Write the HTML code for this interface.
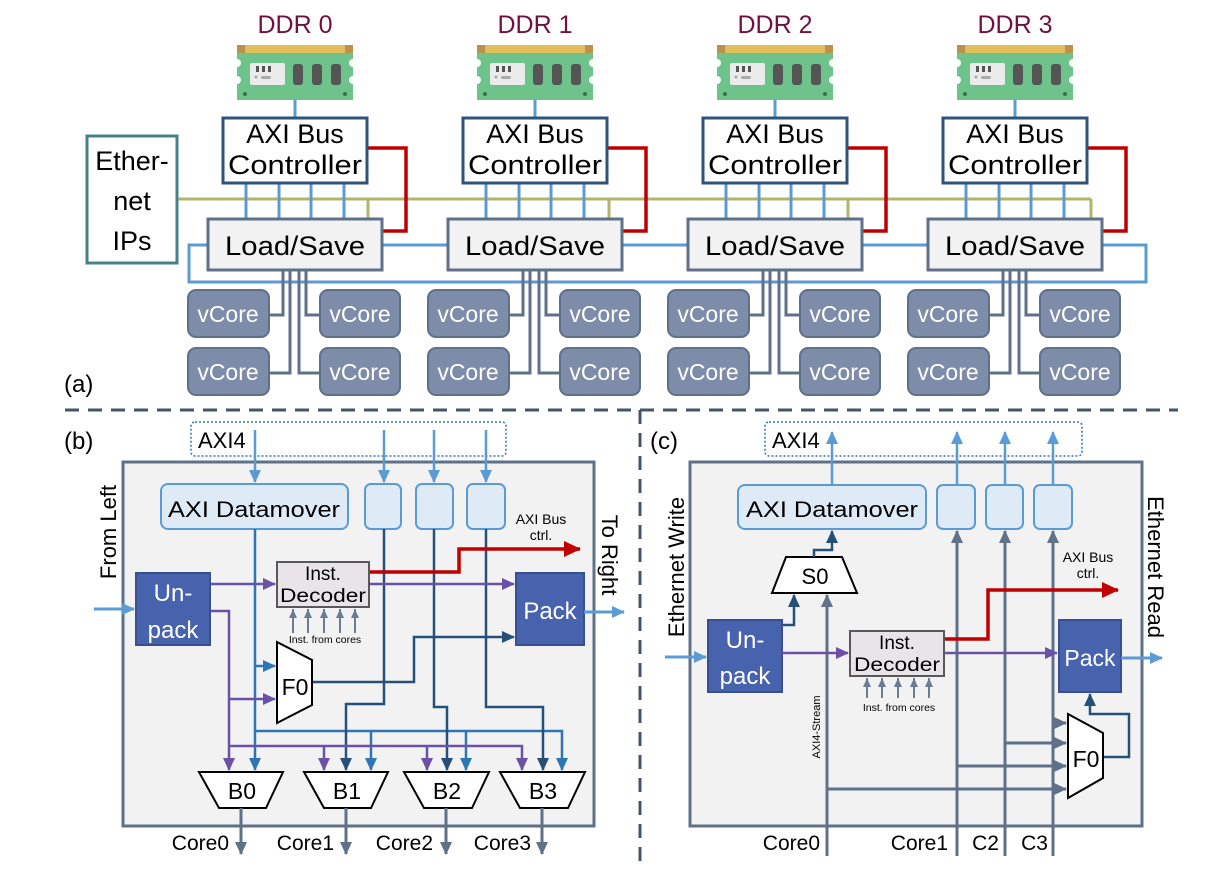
<!DOCTYPE html>
<html><head><meta charset="utf-8"><style>
html,body{margin:0;padding:0;background:#fff;}
svg{display:block;font-family:"Liberation Sans",sans-serif;}
</style></head><body>
<svg width="1228" height="882" viewBox="0 0 1228 882" xmlns="http://www.w3.org/2000/svg">
<defs>
<marker id="aL" markerUnits="userSpaceOnUse" markerWidth="14" markerHeight="14" refX="12" refY="7" orient="auto"><path d="M0,1 L13,7 L0,13 z" fill="#5b9bd5"/></marker>
<marker id="aB" markerUnits="userSpaceOnUse" markerWidth="14" markerHeight="14" refX="12" refY="7" orient="auto"><path d="M0,1 L13,7 L0,13 z" fill="#2e75b6"/></marker>
<marker id="aD" markerUnits="userSpaceOnUse" markerWidth="14" markerHeight="14" refX="12" refY="7" orient="auto"><path d="M0,1 L13,7 L0,13 z" fill="#25507a"/></marker>
<marker id="aP" markerUnits="userSpaceOnUse" markerWidth="14" markerHeight="14" refX="12" refY="7" orient="auto"><path d="M0,1 L13,7 L0,13 z" fill="#6a50a7"/></marker>
<marker id="aG" markerUnits="userSpaceOnUse" markerWidth="14" markerHeight="14" refX="12" refY="7" orient="auto"><path d="M0,1 L13,7 L0,13 z" fill="#5f7089"/></marker>
<marker id="aR" markerUnits="userSpaceOnUse" markerWidth="18" markerHeight="18" refX="16" refY="9" orient="auto"><path d="M0,1 L17,9 L0,17 z" fill="#c00000"/></marker>
<marker id="as" markerUnits="userSpaceOnUse" markerWidth="10" markerHeight="10" refX="9" refY="5" orient="auto"><path d="M0,1 L9,5 L0,9 z" fill="#6d7c93"/></marker>
<g id="ddr">
<rect x="0" y="0" width="116" height="9" fill="#e3bd5c"/>
<rect x="0" y="0" width="8" height="9" fill="#b8944a"/><rect x="108" y="0" width="8" height="9" fill="#b8944a"/>
<rect x="0" y="8" width="116" height="47" fill="#6ec38a"/>
<circle cx="0" cy="18" r="4" fill="#fff"/><circle cx="0" cy="35" r="4" fill="#fff"/>
<circle cx="116" cy="18" r="4" fill="#fff"/><circle cx="116" cy="35" r="4" fill="#fff"/>
<rect x="13" y="18" width="35" height="22" rx="2" fill="#ebebeb"/>
<rect x="19" y="21" width="3" height="6" fill="#555"/><rect x="25" y="21" width="3" height="6" fill="#555"/><rect x="31" y="21" width="3" height="6" fill="#555"/>
<rect x="24" y="31" width="10" height="3" rx="1.5" fill="#aaa"/><circle cx="19" cy="32" r="1.5" fill="#aaa"/>
<rect x="56" y="19" width="10" height="21" rx="3" fill="#555"/><rect x="75" y="19" width="10" height="21" rx="3" fill="#555"/><rect x="94" y="19" width="10" height="21" rx="3" fill="#555"/>
<circle cx="8" cy="49" r="2" fill="#3c6e4a"/><circle cx="108" cy="49" r="2" fill="#3c6e4a"/>
</g>
</defs>

<!-- ===== (a) ===== -->
<path d="M177,199 H1091 M368,199 V218 M609,199 V218 M848,199 V218 M1091,199 V218" stroke="#b1b46c" stroke-width="3" fill="none"/>
<path d="M208,245 H189 V282 H1146 V245 H1102" stroke="#5b9bd5" stroke-width="3" fill="none"/>
<path d="M382,245 H448 M622,245 H688 M862,245 H928" stroke="#5b9bd5" stroke-width="3" fill="none"/>

<g id="unit0">
<use href="#ddr" x="237" y="45"/>
<text x="295" y="33" font-size="25" fill="#72103f" text-anchor="middle">DDR 0</text>
<path d="M295,100 V117 M246,183 V218 M279,183 V218 M311,183 V218 M344,183 V218" stroke="#5b9bd5" stroke-width="3"/>
<path d="M367,148 H406 V231 H382" stroke="#c00000" stroke-width="3.5" fill="none"/>
<rect x="223" y="118" width="144" height="65" fill="#fff" stroke="#2e5279" stroke-width="3"/>
<text x="295" y="143" font-size="27" text-anchor="middle">AXI Bus</text>
<text x="295" y="174" font-size="27" text-anchor="middle" textLength="134" lengthAdjust="spacingAndGlyphs">Controller</text>
<rect x="208" y="219" width="174" height="51" fill="#f2f2f2" stroke="#5f7089" stroke-width="3"/>
<text x="295" y="255" font-size="27" text-anchor="middle" textLength="140" lengthAdjust="spacingAndGlyphs">Load/Save</text>
<path d="M283,270 V315 H269 M290,270 V373 H269 M299,270 V373 H320 M306,270 V315 H320" stroke="#5f7089" stroke-width="3" fill="none"/>
<rect x="188" y="290" width="81" height="47" rx="8" fill="#7d8ca8" stroke="#5f7089" stroke-width="2"/>
<rect x="320" y="290" width="80" height="47" rx="8" fill="#7d8ca8" stroke="#5f7089" stroke-width="2"/>
<rect x="188" y="348" width="81" height="47" rx="8" fill="#7d8ca8" stroke="#5f7089" stroke-width="2"/>
<rect x="320" y="348" width="80" height="47" rx="8" fill="#7d8ca8" stroke="#5f7089" stroke-width="2"/>
<g font-size="23" fill="#fff" text-anchor="middle">
<text x="228" y="322">vCore</text><text x="360" y="322">vCore</text>
<text x="228" y="380">vCore</text><text x="360" y="380">vCore</text>
</g>
</g>
<use href="#unit0" x="240"/>
<use href="#unit0" x="480"/>
<use href="#unit0" x="720"/>
<rect x="490" y="8" width="92" height="32" fill="#fff"/><text x="535" y="33" font-size="25" fill="#72103f" text-anchor="middle">DDR 1</text>
<rect x="730" y="8" width="92" height="32" fill="#fff"/><text x="775" y="33" font-size="25" fill="#72103f" text-anchor="middle">DDR 2</text>
<rect x="970" y="8" width="92" height="32" fill="#fff"/><text x="1015" y="33" font-size="25" fill="#72103f" text-anchor="middle">DDR 3</text>

<rect x="87" y="136" width="90" height="127" fill="#fff" stroke="#4a8087" stroke-width="3"/>
<g font-size="27" text-anchor="middle"><text x="132" y="170">Ether-</text><text x="132" y="210">net</text><text x="132" y="250">IPs</text></g>

<text x="64" y="392" font-size="24">(a)</text>
<path d="M65,410 H1178" stroke="#44546a" stroke-width="3" stroke-dasharray="14,9"/>
<path d="M640,410 V862" stroke="#44546a" stroke-width="3" stroke-dasharray="14,9"/>

<!-- ===== (b) ===== -->
<text x="64" y="449" font-size="24">(b)</text>
<rect x="191" y="422" width="315" height="34" rx="4" fill="none" stroke="#2e75b6" stroke-width="1.5" stroke-dasharray="2,2"/>
<text x="198" y="448" font-size="22">AXI4</text>
<rect x="123" y="462" width="471" height="364" fill="#f2f2f2" stroke="#5f7089" stroke-width="3"/>
<rect x="161" y="484" width="187" height="45" rx="7" fill="#deebf7" stroke="#5b9bd5" stroke-width="2"/>
<text x="254" y="517" font-size="22" text-anchor="middle" textLength="172" lengthAdjust="spacingAndGlyphs">AXI Datamover</text>
<rect x="365" y="484" width="36" height="45" rx="6" fill="#deebf7" stroke="#5b9bd5" stroke-width="2"/>
<rect x="416" y="484" width="37" height="45" rx="6" fill="#deebf7" stroke="#5b9bd5" stroke-width="2"/>
<rect x="467" y="484" width="38" height="45" rx="6" fill="#deebf7" stroke="#5b9bd5" stroke-width="2"/>
<g stroke="#5b9bd5" stroke-width="2.5" marker-end="url(#aL)">
<path d="M255,430 V482"/><path d="M384,430 V482"/><path d="M434,430 V482"/><path d="M486,430 V482"/>
</g>

<g stroke="#2e75b6" stroke-width="2.5" fill="none">
<path d="M255,529 V770" marker-end="url(#aB)"/>
<path d="M255,666 H275" marker-end="url(#aB)"/>
<path d="M255,731 H562 V770" marker-end="url(#aB)"/>
<path d="M371,731 V770" marker-end="url(#aB)"/>
<path d="M466,731 V770" marker-end="url(#aB)"/>
</g>
<g stroke="#25507a" stroke-width="2.5" fill="none">
<path d="M384,529 V704 H346 V770" marker-end="url(#aD)"/>
<path d="M434,529 V707 H447 V770" marker-end="url(#aD)"/>
<path d="M486,529 V707 H543 V770" marker-end="url(#aD)"/>
<path d="M312,682 H414 V637 H514" marker-end="url(#aD)"/>
</g>
<g stroke="#6a50a7" stroke-width="2.5" fill="none">
<path d="M210,584 H275" marker-end="url(#aP)"/>
<path d="M369,584 H514" marker-end="url(#aP)"/>
<path d="M210,611 H229 V770" marker-end="url(#aP)"/>
<path d="M229,699 H275" marker-end="url(#aP)"/>
<path d="M229,746 H522 V770" marker-end="url(#aP)"/>
<path d="M324,746 V770" marker-end="url(#aP)"/>
<path d="M427,746 V770" marker-end="url(#aP)"/>
</g>
<path d="M369,572 H459 V549 H580" stroke="#c00000" stroke-width="3.5" fill="none" marker-end="url(#aR)"/>
<text x="541" y="524" font-size="14" text-anchor="middle">AXI Bus</text>
<text x="541" y="540" font-size="14" text-anchor="middle">ctrl.</text>
<rect x="277" y="562" width="92" height="45" fill="#e8e4e8" stroke="#595959" stroke-width="2"/>
<text x="323" y="580" font-size="19" text-anchor="middle">Inst.</text>
<text x="323" y="602" font-size="19" text-anchor="middle" textLength="86" lengthAdjust="spacingAndGlyphs">Decoder</text>
<g stroke="#6d7c93" stroke-width="2" marker-end="url(#as)">
<path d="M293,633 V609"/><path d="M308,633 V609"/><path d="M324,633 V609"/><path d="M340,633 V609"/><path d="M355,633 V609"/>
</g>
<text x="325" y="643" font-size="10.5" text-anchor="middle">Inst. from cores</text>
<rect x="136" y="573" width="74" height="72" fill="#4863ad" stroke="#3a4f8f" stroke-width="2"/>
<text x="173" y="601" font-size="24" fill="#fff" text-anchor="middle">Un-</text>
<text x="173" y="638" font-size="24" fill="#fff" text-anchor="middle">pack</text>
<rect x="516" y="573" width="68" height="72" fill="#4863ad" stroke="#3a4f8f" stroke-width="2"/>
<text x="550" y="619" font-size="24" fill="#fff" text-anchor="middle">Pack</text>
<path d="M94,609 H134" stroke="#5b9bd5" stroke-width="3" marker-end="url(#aL)"/>
<path d="M584,612 H624" stroke="#5b9bd5" stroke-width="3" marker-end="url(#aL)"/>
<text transform="translate(116,532) rotate(-90)" font-size="22" text-anchor="middle">From Left</text>
<text transform="translate(602,555) rotate(90)" font-size="22" text-anchor="middle">To Right</text>
<path d="M277,642 L312,660 L312,705 L277,723 z" fill="#fff" stroke="#000" stroke-width="2"/>
<text x="295" y="695" font-size="23" text-anchor="middle">F0</text>
<g fill="#fff" stroke="#000" stroke-width="2">
<path d="M199,772 H283 L266,808 H219 z"/>
<path d="M304,772 H388 L371,808 H324 z"/>
<path d="M404,772 H489 L472,808 H424 z"/>
<path d="M500,772 H585 L568,808 H520 z"/>
</g>
<g font-size="23" text-anchor="middle"><text x="242" y="799">B0</text><text x="347" y="799">B1</text><text x="447" y="799">B2</text><text x="543" y="799">B3</text></g>
<g stroke="#5f7089" stroke-width="3" marker-end="url(#aG)">
<path d="M241,808 V854"/><path d="M346,808 V854"/><path d="M446,808 V854"/><path d="M542,808 V854"/>
</g>
<g font-size="21" text-anchor="end"><text x="229" y="850">Core0</text><text x="334" y="850">Core1</text><text x="433" y="850">Core2</text><text x="531" y="850">Core3</text></g>

<!-- ===== (c) ===== -->
<text x="650" y="449" font-size="24">(c)</text>
<rect x="765" y="422" width="317" height="34" rx="4" fill="none" stroke="#2e75b6" stroke-width="1.5" stroke-dasharray="2,2"/>
<text x="772" y="448" font-size="22">AXI4</text>
<rect x="690" y="462" width="452" height="364" fill="#f2f2f2" stroke="#5f7089" stroke-width="3"/>
<g stroke="#5b9bd5" stroke-width="2.5" marker-end="url(#aL)">
<path d="M832,485 V432"/><path d="M957,485 V432"/><path d="M1005,485 V432"/><path d="M1053,485 V432"/>
</g>
<rect x="738" y="485" width="188" height="44" rx="7" fill="#deebf7" stroke="#5b9bd5" stroke-width="2"/>
<text x="832" y="517" font-size="22" text-anchor="middle" textLength="172" lengthAdjust="spacingAndGlyphs">AXI Datamover</text>
<rect x="937" y="485" width="38" height="44" rx="6" fill="#deebf7" stroke="#5b9bd5" stroke-width="2"/>
<rect x="986" y="485" width="37" height="44" rx="6" fill="#deebf7" stroke="#5b9bd5" stroke-width="2"/>
<rect x="1034" y="485" width="38" height="44" rx="6" fill="#deebf7" stroke="#5b9bd5" stroke-width="2"/>
<g stroke="#5f7089" stroke-width="3" fill="none">
<path d="M957,856 V531" marker-end="url(#aG)"/>
<path d="M1005,856 V531" marker-end="url(#aG)"/>
<path d="M1053,856 V531" marker-end="url(#aG)"/>
<path d="M827,856 V595" marker-end="url(#aG)"/>
<path d="M1053,723 H1066" marker-end="url(#aG)"/>
<path d="M1005,743 H1066" marker-end="url(#aG)"/>
<path d="M957,766 H1066" marker-end="url(#aG)"/>
<path d="M827,789 H1066" marker-end="url(#aG)"/>
</g>
<text transform="translate(820,727) rotate(-90)" font-size="11" text-anchor="middle">AXI4-Stream</text>
<path d="M786,557 H842 L857,593 H772 z" fill="#fff" stroke="#000" stroke-width="2"/>
<text x="815" y="584" font-size="22" text-anchor="middle">S0</text>
<g stroke="#25507a" stroke-width="2.5" fill="none">
<path d="M814,557 V550 H832 V531" marker-end="url(#aD)"/>
<path d="M782,625 H794 V595" marker-end="url(#aD)"/>
<path d="M1103,757 H1129 V714 H1090 V694" marker-end="url(#aD)"/>
</g>
<rect x="708" y="620" width="74" height="72" fill="#4863ad" stroke="#3a4f8f" stroke-width="2"/>
<text x="745" y="648" font-size="24" fill="#fff" text-anchor="middle">Un-</text>
<text x="745" y="684" font-size="24" fill="#fff" text-anchor="middle">pack</text>
<rect x="1059" y="620" width="62" height="72" fill="#4863ad" stroke="#3a4f8f" stroke-width="2"/>
<text x="1090" y="666" font-size="23" fill="#fff" text-anchor="middle">Pack</text>
<path d="M665,657 H706" stroke="#5b9bd5" stroke-width="3" marker-end="url(#aL)"/>
<path d="M1121,658 H1162" stroke="#5b9bd5" stroke-width="3" marker-end="url(#aL)"/>
<text transform="translate(684,567) rotate(-90)" font-size="22" text-anchor="middle">Ethernet Write</text>
<text transform="translate(1148,567) rotate(90)" font-size="22" text-anchor="middle">Ethernet Read</text>
<path d="M782,653 H848" stroke="#6a50a7" stroke-width="2.5" marker-end="url(#aP)"/>
<path d="M944,653 H1057" stroke="#6a50a7" stroke-width="2.5" marker-end="url(#aP)"/>
<path d="M944,639 H988 V590 H1118" stroke="#c00000" stroke-width="3.5" fill="none" marker-end="url(#aR)"/>
<text x="1088" y="562" font-size="14" text-anchor="middle">AXI Bus</text>
<text x="1088" y="578" font-size="14" text-anchor="middle">ctrl.</text>
<rect x="850" y="631" width="94" height="45" fill="#e8e4e8" stroke="#595959" stroke-width="2"/>
<text x="897" y="649" font-size="19" text-anchor="middle">Inst.</text>
<text x="897" y="671" font-size="19" text-anchor="middle" textLength="86" lengthAdjust="spacingAndGlyphs">Decoder</text>
<g stroke="#6d7c93" stroke-width="2" marker-end="url(#as)">
<path d="M867,698 V678"/><path d="M882,698 V678"/><path d="M898,698 V678"/><path d="M914,698 V678"/><path d="M929,698 V678"/>
</g>
<text x="899" y="711" font-size="10.5" text-anchor="middle">Inst. from cores</text>
<path d="M1068,714 L1103,733 L1103,778 L1068,798 z" fill="#fff" stroke="#000" stroke-width="2"/>
<text x="1086" y="767" font-size="23" text-anchor="middle">F0</text>
<g font-size="21" text-anchor="end"><text x="820" y="850">Core0</text><text x="948" y="850">Core1</text><text x="999" y="850">C2</text><text x="1048" y="850">C3</text></g>
</svg>
</body></html>
